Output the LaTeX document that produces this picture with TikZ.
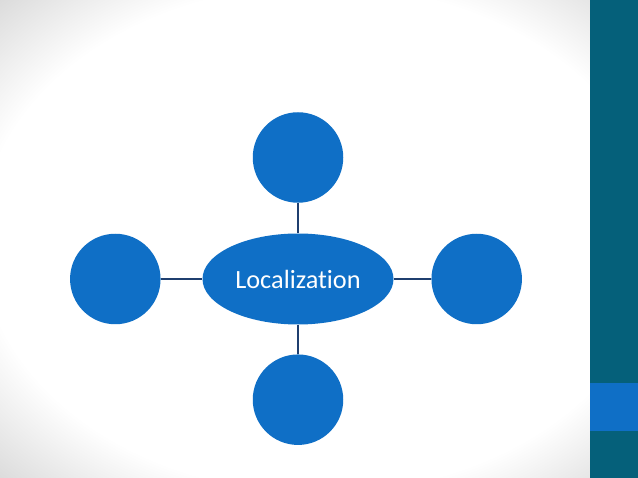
\documentclass[tikz,border=0pt]{standalone}
\usepackage{fontspec}
\setmainfont[Ligatures=NoCommon]{Carlito}
\usetikzlibrary{shapes.geometric}
\definecolor{bluefill}{HTML}{0F6FC6}
\definecolor{barteal}{HTML}{05607A}
\definecolor{linenavy}{HTML}{1F3F6F}
\pgfdeclareradialshading{vign}{\pgfpoint{0bp}{0bp}}{color(0bp)=(white); color(26.5bp)=(white); color(35.4bp)=(black!14); color(50bp)=(black!14)}
\tikzset{
  bubble/.style={circle, fill=bluefill, draw=none, minimum size=90.5pt, inner sep=0pt},
  hub/.style={ellipse, fill=bluefill, draw=none, minimum width=191pt, minimum height=91pt, inner sep=0pt,
    text=white, font=\fontsize{26.3pt}{30pt}\selectfont},
  link/.style={draw=linenavy, line width=1.5pt}
}
\begin{document}
\begin{tikzpicture}[x=1pt,y=-1pt]
\useasboundingbox (0,0) rectangle (638,478);
\shade[shading=vign] (0,0) rectangle (638,478);
\fill[barteal] (590,0) rectangle (638,478);
\fill[bluefill] (590,383) rectangle (638,431);
\node[hub] (hub) at (298,279) {Localization};
\node[bubble] (top) at (298,157.5) {};
\node[bubble] (left) at (115.3,279) {};
\node[bubble] (right) at (476.7,279) {};
\node[bubble] (bottom) at (298,399.7) {};
\draw[link] (top.south) -- (hub.north);
\draw[link] (hub.south) -- (bottom.north);
\draw[link] (left.east) -- (hub.west);
\draw[link] (hub.east) -- (right.west);
\end{tikzpicture}
\end{document}
